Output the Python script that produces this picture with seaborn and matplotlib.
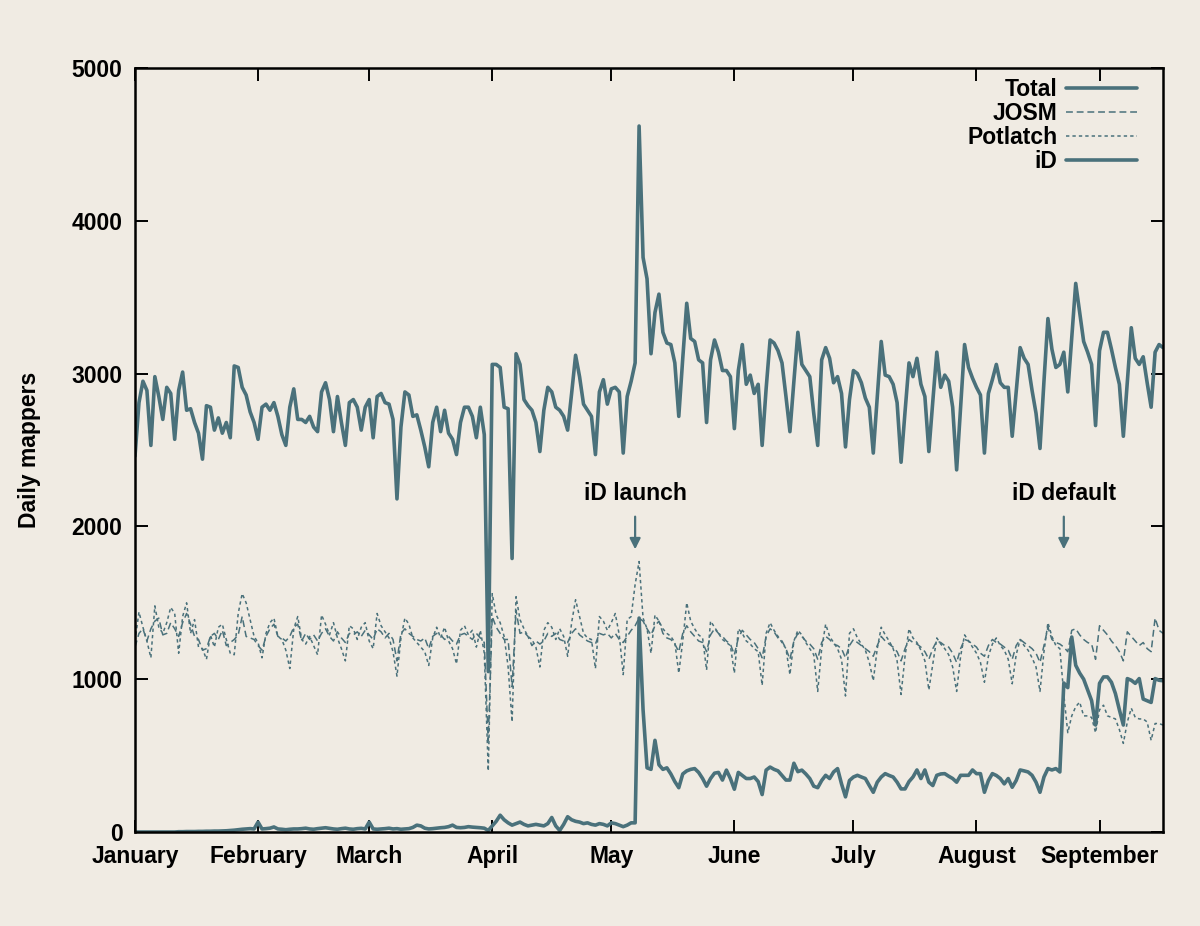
import numpy as np
import pandas as pd
import matplotlib
matplotlib.use("Agg")
import matplotlib.pyplot as plt
import matplotlib.dates as mdates
import seaborn as sns

# ---------------- data (daily values) ----------------
start_date = "2013-01-01"

total = [
    2460, 2810, 2950, 2890, 2530, 2980, 2850, 2700, 2910, 2870,
    2570, 2890, 3010, 2760, 2770, 2680, 2610, 2440, 2790, 2780,
    2630, 2710, 2610, 2680, 2580, 3050, 3040, 2910, 2860, 2750,
    2680, 2570, 2780, 2800, 2760, 2810, 2720, 2600, 2530, 2780,
    2900, 2700,
    2700, 2680, 2720, 2650, 2620, 2880, 2940, 2830, 2620, 2850,
    2680, 2530, 2810, 2830, 2780, 2630, 2780, 2830, 2580, 2850,
    2870, 2810, 2800, 2700, 2180, 2650, 2880, 2860, 2720, 2730,
    2630, 2520, 2390, 2680, 2780, 2620, 2760, 2610, 2570, 2470,
    2680, 2780, 2780, 2720,
    2580, 2780, 2600, 1050, 3060, 3060, 3040, 2780, 2770, 1790,
    3130, 3060, 2830, 2790, 2760, 2680, 2490, 2760, 2910, 2880,
    2780, 2760, 2720, 2630, 2870, 3120, 2980, 2800, 2760, 2720,
    2470, 2880, 2960, 2800, 2900, 2910, 2880, 2480, 2850, 2950,
    3070, 4620, 3760,
    3620, 3130, 3400, 3520, 3270, 3200, 3190, 3070, 2720, 3100,
    3460, 3230, 3210, 3090, 3070, 2680, 3090, 3220, 3140, 3020,
    3020, 2980, 2640, 3020, 3190, 2930, 2990, 2870, 2930, 2530,
    2900, 3220, 3200, 3150, 3070, 2850, 2620, 2950, 3270, 3060,
    3020, 2980, 2740,
    2530, 3090, 3170, 3100, 2940, 2980, 2870, 2520, 2830, 3020,
    3000, 2940, 2840, 2780, 2480, 2850, 3210, 2990, 2980, 2930,
    2810, 2420, 2750, 3070, 2980, 3100, 2930, 2850, 2490, 2820,
    3140, 2910, 2990, 2950, 2780, 2370, 2780, 3190, 3040, 2970,
    2910, 2860, 2480,
    2870, 2960, 3060, 2940, 2910, 2910, 2590, 2880, 3170, 3100,
    3060, 2890, 2740, 2510, 2950, 3360, 3160, 3040, 3060, 3140,
    2880, 3240, 3590, 3400, 3210, 3140, 3060, 2660, 3150, 3270,
    3270, 3160, 3040, 2930, 2590, 2950, 3300, 3100, 3060, 3110,
    2940, 2780, 3140, 3190, 3170,
]

josm = [
    1210, 1300, 1330, 1250, 1330, 1380, 1400, 1290, 1300, 1370,
    1330, 1280, 1370, 1430, 1360, 1280, 1260, 1190, 1200, 1280,
    1300, 1260, 1320, 1220, 1240, 1260, 1290, 1410, 1280, 1270,
    1260, 1220, 1190, 1280, 1330, 1360, 1280, 1270, 1250, 1280,
    1340, 1360, 1250, 1300, 1260, 1290, 1250, 1300, 1330, 1280,
    1250, 1310, 1270, 1240, 1300, 1290, 1310, 1280, 1320, 1290,
    1260, 1330, 1310, 1270, 1300, 1260, 1120, 1300, 1330, 1300,
    1280, 1260, 1250, 1270, 1200, 1280, 1300, 1290, 1260, 1280,
    1250, 1230, 1290, 1300, 1280, 1260, 1300, 1270, 1240, 600,
    1410, 1340, 1300, 1260, 1260, 950, 1450, 1300, 1310, 1280,
    1220, 1250, 1230, 1250, 1300, 1280, 1300, 1260, 1250, 1240,
    1300, 1330, 1290, 1270, 1250, 1240, 1230, 1300, 1290, 1300,
    1270, 1300, 1260, 1240, 1280, 1320, 1350, 1400, 1380, 1330,
    1290, 1350, 1380, 1300, 1270, 1260, 1230, 1180, 1300, 1350,
    1310, 1280, 1250, 1240, 1180, 1290, 1330, 1300, 1280, 1250,
    1230, 1160, 1270, 1320, 1290, 1260, 1240, 1200, 1140, 1280,
    1330, 1310, 1270, 1250, 1200, 1130, 1250, 1300, 1280, 1250,
    1230, 1200, 1130, 1240, 1280, 1260, 1230, 1220, 1200, 1140,
    1220, 1260, 1240, 1220, 1200, 1180, 1150, 1220, 1280, 1250,
    1230, 1210, 1180, 1120, 1200, 1260, 1240, 1230, 1210, 1180,
    1130, 1200, 1250, 1240, 1220, 1210, 1170, 1110, 1200, 1260,
    1250, 1230, 1210, 1170, 1150, 1220, 1260, 1240, 1230, 1210,
    1190, 1130, 1220, 1260, 1240, 1220, 1200, 1170, 1110, 1220,
    1340, 1260, 1240, 1230, 1210, 1180, 1320, 1330, 1290, 1260,
    1240, 1230, 1130, 1350, 1320, 1290, 1250, 1220, 1180, 1120,
    1310, 1280, 1250, 1220, 1240, 1200, 1180, 1400, 1320, 1300,
]

potlatch = [
    1250, 1440, 1340, 1250, 1140, 1480, 1340, 1300, 1370, 1470,
    1430, 1170, 1410, 1500, 1300, 1390, 1210, 1200, 1130, 1290,
    1210, 1340, 1360, 1260, 1170, 1160, 1430, 1560, 1500, 1390,
    1280, 1240, 1140, 1300, 1370, 1400, 1280, 1260, 1190, 1070,
    1330, 1410, 1260, 1230, 1280, 1220, 1160, 1420, 1360, 1290,
    1370, 1270, 1200, 1120, 1350, 1330, 1260, 1340, 1370, 1250,
    1200, 1430, 1350, 1310, 1270, 1180, 1020, 1270, 1400, 1360,
    1270, 1240, 1210, 1180, 1090, 1270, 1340, 1270, 1340, 1250,
    1200, 1100, 1320, 1350, 1290, 1320, 1210, 1320, 1170, 400,
    1560, 1420, 1370, 1280, 1080, 720, 1540, 1390, 1330, 1280,
    1260, 1210, 1080, 1320, 1370, 1340, 1260, 1330, 1280, 1150,
    1370, 1520, 1410, 1300, 1270, 1260, 1070, 1410, 1380, 1320,
    1370, 1430, 1290, 1030, 1390, 1410, 1620, 1770, 1400, 1330,
    1170, 1420, 1380, 1330, 1300, 1280, 1240, 1040, 1250, 1500,
    1380, 1330, 1290, 1270, 1060, 1380, 1340, 1300, 1260, 1240,
    1220, 1040, 1330, 1300, 1250, 1230, 1200, 1180, 960, 1300,
    1370, 1320, 1280, 1240, 1200, 1030, 1250, 1320, 1290, 1240,
    1200, 1160, 920, 1200, 1360, 1280, 1240, 1200, 1130, 890,
    1300, 1330, 1270, 1230, 1190, 1110, 990, 1200, 1340, 1290,
    1250, 1200, 1120, 900, 1150, 1330, 1270, 1240, 1190, 1120,
    930, 1100, 1270, 1230, 1200, 1160, 1080, 920, 1150, 1290,
    1250, 1210, 1170, 1110, 980, 1150, 1230, 1270, 1220, 1190,
    1130, 970, 1160, 1260, 1220, 1190, 1140, 1080, 920, 1180,
    1370, 1280, 1220, 1200, 900, 650, 760, 820, 850, 760,
    760, 750, 650, 800, 830, 760, 750, 740, 670, 580,
    720, 810, 750, 740, 740, 720, 600, 710, 710, 700,
]

id_editor = [
    0, 0, 0, 0, 0, 0, 0, 0, 0, 0,
    0, 2, 2, 3, 3, 3, 4, 4, 5, 5,
    6, 6, 7, 8, 10, 12, 15, 18, 20, 22,
    20, 65, 20, 22, 25, 33, 20, 18, 15, 18,
    20, 20, 22, 25, 20, 18, 22, 25, 28, 24,
    20, 18, 22, 25, 20, 18, 22, 24, 20, 65,
    20, 18, 20, 22, 25, 20, 22, 18, 20, 22,
    30, 45, 40, 25, 20, 22, 25, 28, 30, 35,
    45, 30, 28, 30, 35, 32, 30, 28, 25, 10,
    40, 70, 110, 80, 60, 45, 55, 65, 50, 40,
    45, 50, 45, 40, 55, 95, 40, 10, 50, 100,
    80, 70, 65, 55, 60, 50, 45, 55, 50, 40,
    60, 55, 45, 35, 45, 60, 60, 1400, 800, 420,
    410, 600, 440, 410, 420, 380, 330, 290, 380, 400,
    410, 415, 390, 350, 300, 350, 385, 390, 340, 405,
    350, 280, 390, 370, 350, 350, 360, 330, 245, 405,
    425, 410, 400, 370, 340, 340, 450, 395, 405, 380,
    350, 300, 290, 337, 371, 350, 393, 415, 315, 230,
    337, 360, 371, 360, 350, 304, 260, 326, 360, 382,
    370, 360, 326, 282, 282, 330, 360, 406, 350, 406,
    326, 304, 371, 380, 382, 365, 350, 326, 371, 371,
    371, 406, 382, 382, 260, 337, 382, 370, 350, 315,
    350, 293, 337, 406, 400, 393, 371, 326, 260, 360,
    415, 406, 415, 393, 975, 945, 1276, 1091, 1040, 1000,
    930, 860, 700, 973, 1015, 1015, 980, 906, 800, 700,
    1004, 993, 973, 1004, 870, 859, 848, 1004, 993, 990,
]

series_names = ["Total", "JOSM", "Potlatch", "iD"]
y_ticks = [0, 1000, 2000, 3000, 4000, 5000]
annotations = [("iD launch", "2013-05-07"), ("iD default", "2013-08-23")]
x_end = "2013-09-17"

# ---------------- styling ----------------
sns.set_theme(style="ticks")
plt.rcParams["font.family"] = ["Liberation Sans", "DejaVu Sans"]
plt.rcParams["font.weight"] = "bold"
plt.rcParams["text.color"] = "black"
plt.rcParams["axes.labelcolor"] = "black"
plt.rcParams["xtick.color"] = "black"
plt.rcParams["ytick.color"] = "black"

paper = "#f0ebe3"
ink = "#4a717b"

dates = pd.date_range(start_date, periods=len(total), freq="D")
df = pd.DataFrame({"date": dates, "Total": total, "JOSM": josm,
                   "Potlatch": potlatch, "iD": id_editor})

fig = plt.figure(figsize=(12, 9.26), dpi=100, facecolor=paper)
ax = fig.add_axes([0.1125, 0.1015, 0.8567, 0.8251])
ax.set_facecolor(paper)

styles = {
    "Total": dict(lw=2.6, linestyle="-"),
    "JOSM": dict(lw=1.1, linestyle=(0, (4.5, 2.5))),
    "Potlatch": dict(lw=1.1, linestyle=(0, (2.2, 2.0))),
    "iD": dict(lw=2.6, linestyle="-"),
}
for name in series_names:
    sns.lineplot(data=df, x="date", y=name, ax=ax, color=ink, label=name,
                 **styles[name])

ax.set_xlim(pd.Timestamp(start_date), pd.Timestamp(x_end))
ax.set_ylim(y_ticks[0], y_ticks[-1])
ax.set_yticks(y_ticks)
ax.set_yticklabels([str(v) for v in y_ticks])
ax.xaxis.set_major_locator(mdates.MonthLocator())
ax.xaxis.set_major_formatter(mdates.DateFormatter("%B"))

ax.tick_params(direction="in", length=9, width=1.4, top=True, right=True,
               labelsize=16.5, pad=9, colors="black")
for lab in ax.get_xticklabels() + ax.get_yticklabels():
    lab.set_fontweight("bold")
    lab.set_color("black")
for sp in ax.spines.values():
    sp.set_linewidth(1.8)
    sp.set_color("black")

ax.set_xlabel("")
ax.set_ylabel("Daily mappers", fontsize=16.5, fontweight="bold", labelpad=22,
              color="black")

# annotations
for text, d in annotations:
    ax.annotate(text, xy=(pd.Timestamp(d), 1850), xytext=(pd.Timestamp(d), 2215),
                ha="center", va="center", fontsize=16.5, fontweight="bold",
                color="black",
                arrowprops=dict(arrowstyle="-|>", color=ink, lw=1.6,
                                mutation_scale=16, shrinkA=6, shrinkB=0))

handles, labels = ax.get_legend_handles_labels()
leg = ax.legend(handles, labels, loc="upper right", bbox_to_anchor=(0.975, 0.987),
                frameon=False, markerfirst=False, fontsize=16.5,
                handlelength=3.1, handletextpad=0.4, labelspacing=0.05,
                borderpad=0, borderaxespad=0)
for t in leg.get_texts():
    t.set_fontweight("bold")
    t.set_color("black")

fig.savefig("out.png", dpi=100, facecolor=paper)
